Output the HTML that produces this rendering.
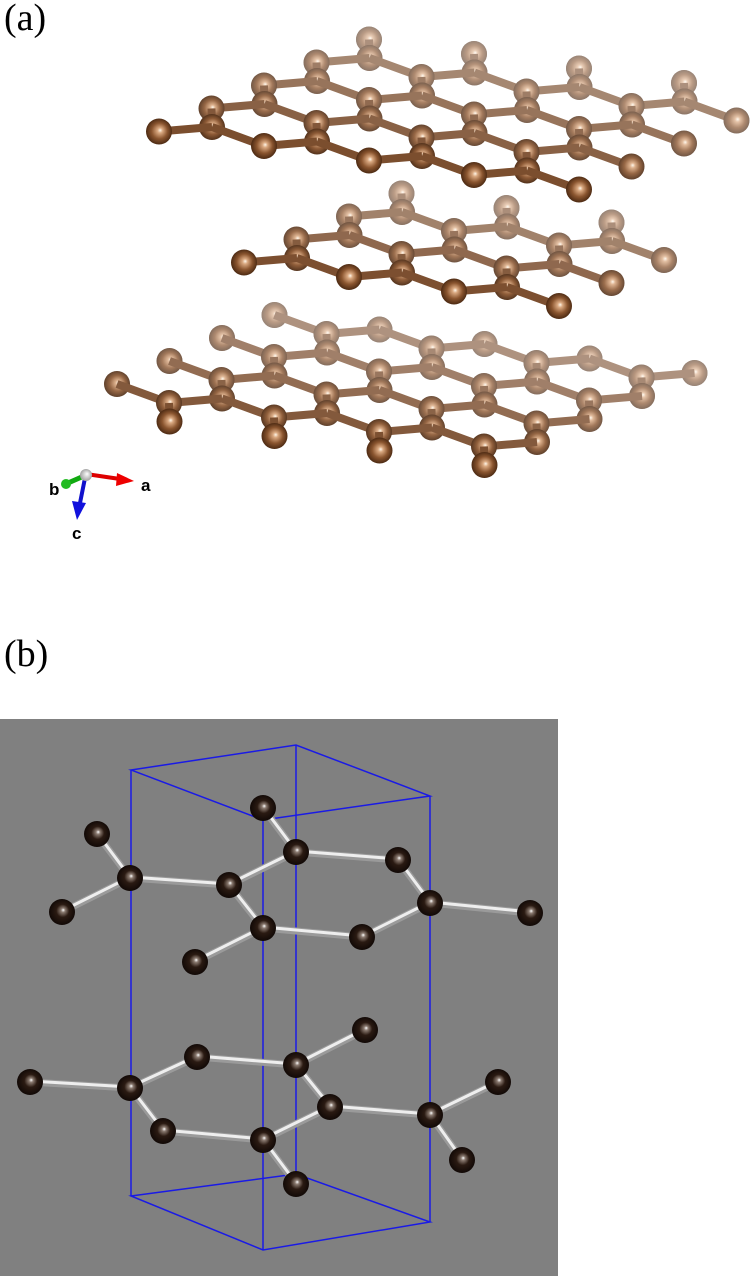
<!DOCTYPE html>
<html><head><meta charset="utf-8">
<style>
html,body{margin:0;padding:0;background:#fff;}
body{width:755px;height:1276px;position:relative;overflow:hidden;}
.lbl{position:absolute;font-family:"Liberation Serif",serif;font-size:38px;color:#000;}
svg{position:absolute;left:0;top:0;}
</style></head><body>
<div class="lbl" style="left:4px;top:-4px">(a)</div>
<div class="lbl" style="left:4px;top:632px">(b)</div>
<svg id="s" width="755" height="1276" viewBox="0 0 755 1276">
<defs>
<radialGradient id="cu" cx="0.5" cy="0.5" r="0.55" fx="0.55" fy="0.45">
<stop offset="0" stop-color="#fff6e8"/>
<stop offset="0.18" stop-color="#d9a880"/>
<stop offset="0.55" stop-color="#8a552f"/>
<stop offset="1" stop-color="#3e200c"/>
</radialGradient>
<radialGradient id="bk" cx="0.5" cy="0.5" r="0.55" fx="0.55" fy="0.42">
<stop offset="0" stop-color="#ffffff"/>
<stop offset="0.15" stop-color="#8a7a70"/>
<stop offset="0.45" stop-color="#2a1a12"/>
<stop offset="1" stop-color="#0d0604"/>
</radialGradient>
<radialGradient id="ws" cx="0.5" cy="0.5" r="0.55" fx="0.6" fy="0.4">
<stop offset="0" stop-color="#fff"/><stop offset="1" stop-color="#999"/>
</radialGradient>
</defs>
<g id="ga"></g>
<g>
<line x1="86" y1="474" x2="120" y2="479" stroke="#d00" stroke-width="4"/>
<polygon points="134,481 117,473 116,486" fill="#e00"/>
<line x1="84" y1="476" x2="68" y2="483" stroke="#1a1" stroke-width="5"/>
<circle cx="66" cy="484" r="5" fill="#2b2"/>
<line x1="85" y1="478" x2="80" y2="503" stroke="#11c" stroke-width="4"/>
<polygon points="77,520 72,501 86,503" fill="#11d"/>
<circle cx="86" cy="475" r="6" fill="url(#ws)"/>
<text x="141" y="491" font-family="Liberation Sans,sans-serif" font-weight="bold" font-size="17">a</text>
<text x="49" y="495" font-family="Liberation Sans,sans-serif" font-weight="bold" font-size="17">b</text>
<text x="72" y="539" font-family="Liberation Sans,sans-serif" font-weight="bold" font-size="17">c</text>
</g>
<rect x="0" y="719" width="558" height="557" fill="#808080"/>
<g stroke="#1a1ae6" stroke-width="1.5" fill="none">
<polygon points="131,770 296,745 430,796 263,820"/>
<polygon points="131,1196 296,1174 430,1222 263,1250"/>
<line x1="131" y1="770" x2="131" y2="1196"/>
<line x1="296" y1="745" x2="296" y2="1174"/>
<line x1="430" y1="796" x2="430" y2="1222"/>
<line x1="263" y1="820" x2="263" y2="1250"/>
</g>
<g id="gb"></g>
</svg>
<script>
var NS="http://www.w3.org/2000/svg";
function el(p,t,a){var e=document.createElementNS(NS,t);for(var k in a)e.setAttribute(k,a[k]);p.appendChild(e);return e;}
var a1=[105,14.5],a2=[52.5,-23],b1=[-53,4.5];
var b2=[a1[0]+b1[0],a1[1]+b1[1]],b3=[a2[0]+b1[0],a2[1]+b1[1]];
var layers=[{o:[212,127],n:4,s:1},{o:[297,258],n:3,s:1},{o:[169,403],n:4,s:-1}];
var ga=document.getElementById("ga");
layers.forEach(function(L){
 var atoms={},bonds=[];
 function key(p){return Math.round(p[0])+","+Math.round(p[1]);}
 for(var i=0;i<L.n;i++)for(var j=0;j<L.n;j++){
  var c=[L.o[0]+i*a1[0]+j*a2[0],L.o[1]+i*a1[1]+j*a2[1]];
  atoms[key(c)]=c;
  [b1,b2,b3].forEach(function(b){var q=[c[0]+L.s*b[0],c[1]+L.s*b[1]];atoms[key(q)]=q;bonds.push([c,q]);});
 }
 var arr=Object.keys(atoms).map(function(k){return atoms[k];});
 function dep(p){return p[1]-p[0]*a1[1]/a1[0];}
 var ds=arr.map(dep),mn=Math.min.apply(0,ds),mx=Math.max.apply(0,ds);
 function fade(d){return (mx-d)/(mx-mn);}
 var g=[];
 bonds.forEach(function(b){var d=(dep(b[0])+dep(b[1]))/2;g.push({t:"b",b:b,d:d-0.5,f:fade(d)});});
 arr.forEach(function(p){var d=dep(p);g.push({t:"a",p:p,d:d,f:fade(d)});});
 g.sort(function(x,y){return x.d-y.d;});
 g.forEach(function(it){
  var f=it.f*0.42;
  if(it.t=="b"){
   var r=Math.round(120+(255-120)*f),gg=Math.round(74+(255-74)*f),bb=Math.round(42+(255-42)*f);
   el(ga,"line",{x1:it.b[0][0],y1:it.b[0][1],x2:it.b[1][0],y2:it.b[1][1],stroke:"rgb("+r+","+gg+","+bb+")","stroke-width":8});
  }else{
   el(ga,"circle",{cx:it.p[0],cy:it.p[1],r:13,fill:"url(#cu)"});
   if(f>0.01)el(ga,"circle",{cx:it.p[0],cy:it.p[1],r:13,fill:"#fff","fill-opacity":f});
  }
 });
});
var gb=document.getElementById("gb");
var A=[[263,808],[97,834],[296,852],[398,860],[130,878],[229,885],[430,903],[62,912],[530,913],[263,928],[362,937],[195,962],
[365,1030],[197,1057],[296,1065],[30,1082],[130,1088],[498,1082],[330,1107],[430,1115],[163,1131],[263,1140],[462,1160],[296,1184]];
var B=[[97,834,130,878],[130,878,62,912],[130,878,229,885],[229,885,296,852],[296,852,263,808],[296,852,398,860],[398,860,430,903],[430,903,530,913],[430,903,362,937],[362,937,263,928],[263,928,229,885],[263,928,195,962],
[30,1082,130,1088],[130,1088,197,1057],[197,1057,296,1065],[296,1065,365,1030],[296,1065,330,1107],[130,1088,163,1131],[163,1131,263,1140],[263,1140,330,1107],[330,1107,430,1115],[430,1115,498,1082],[430,1115,462,1160],[263,1140,296,1184]];
B.forEach(function(b){
 el(gb,"line",{x1:b[0],y1:b[1],x2:b[2],y2:b[3],stroke:"#9a9a9a","stroke-width":7,"stroke-linecap":"round"});
 el(gb,"line",{x1:b[0],y1:b[1]-1,x2:b[2],y2:b[3]-1,stroke:"#eeeeee","stroke-width":3,"stroke-linecap":"round"});
});
A.forEach(function(p){el(gb,"circle",{cx:p[0],cy:p[1],r:13,fill:"url(#bk)"});});
</script>
</body></html>
